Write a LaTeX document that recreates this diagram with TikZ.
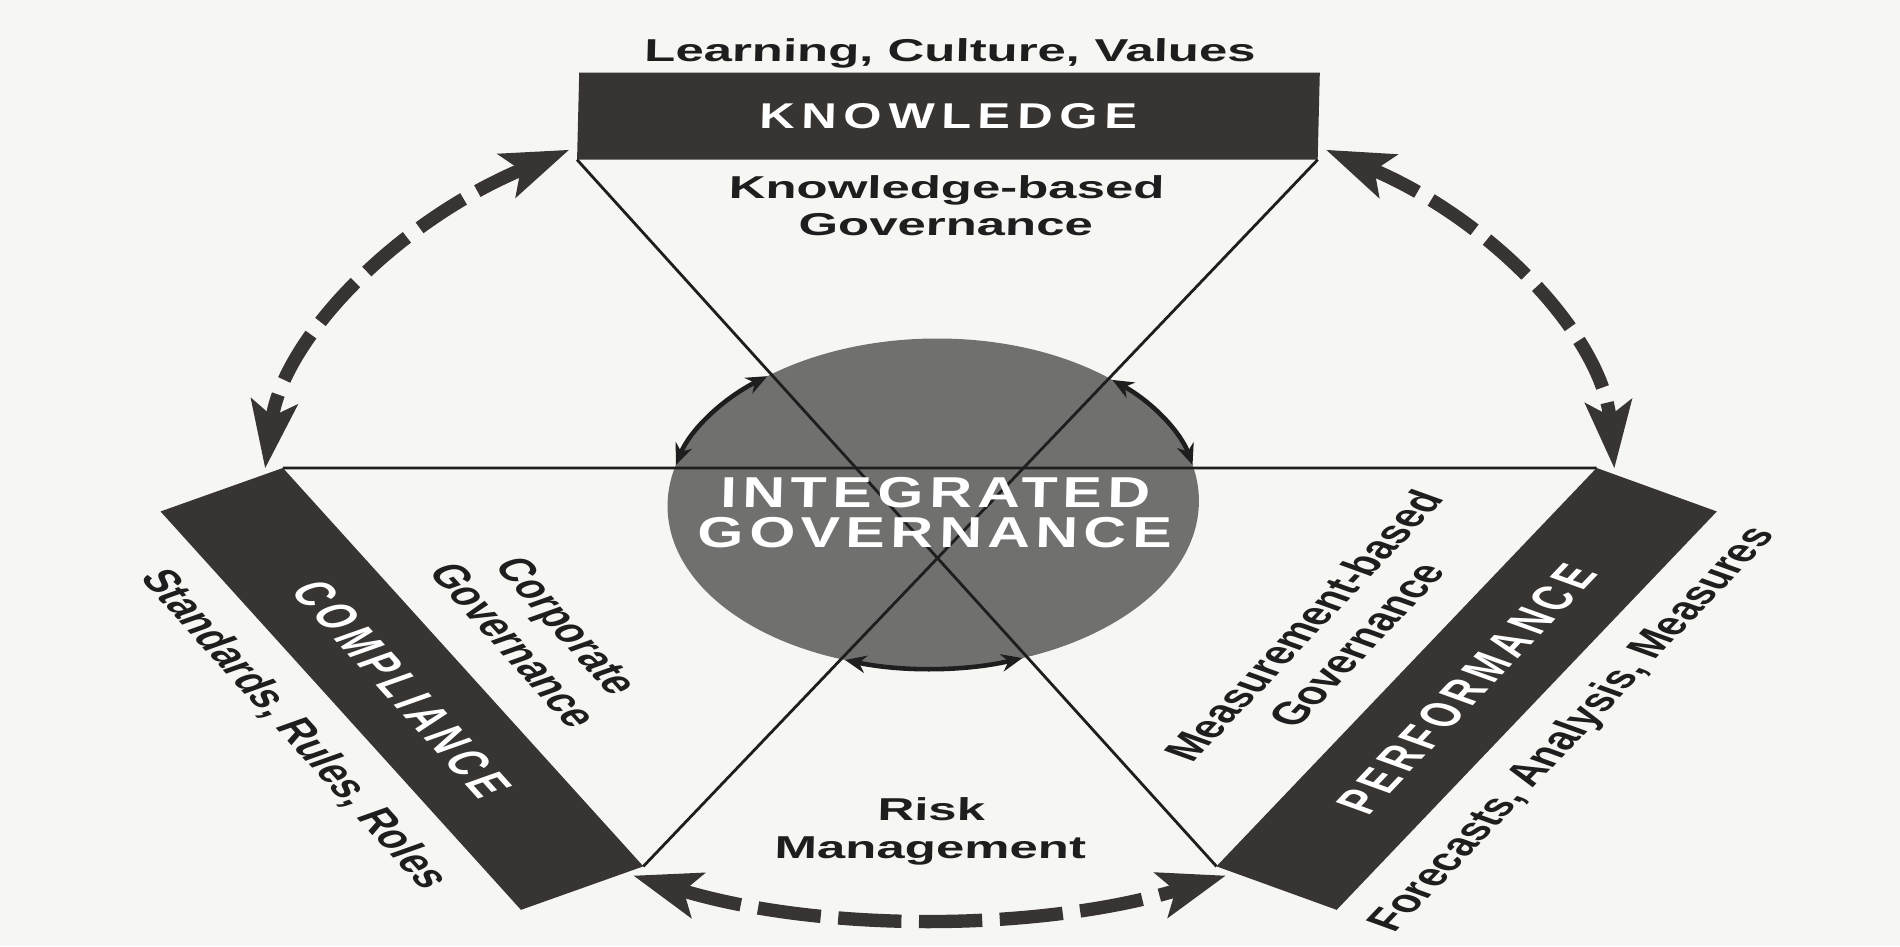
\documentclass[tikz,border=0pt]{standalone}
\usepackage{fontspec}
\setmainfont{Liberation Sans}
\newfontfamily\boxfont[FakeStretch=0.85,LetterSpace=11.5]{Liberation Sans}
\newfontfamily\igfont[FakeStretch=0.85,LetterSpace=8]{Liberation Sans}
\usetikzlibrary{arrows.meta}
\definecolor{bg}{RGB}{246,246,243}
\definecolor{boxc}{RGB}{56,52,50}
\definecolor{ellc}{RGB}{112,112,110}
\definecolor{ink}{RGB}{30,30,30}
\tikzset{
  panel/.style={fill=boxc, minimum width=4.6cm, minimum height=0.87cm, inner sep=0pt, outer sep=0pt,
    text=white, font=\boxfont\bfseries\fontsize{10.2pt}{12pt}\selectfont},
  lbl/.style={text=ink, inner sep=0pt, anchor=base, font=\bfseries\fontsize{9pt}{11pt}\selectfont},
  igtext/.style={text=white, inner sep=0pt, anchor=base, font=\igfont\bfseries\fontsize{12.3pt}{14pt}\selectfont},
  thinline/.style={line width=0.8pt, draw=ink},
  bigarrow/.style={line width=3.8pt, draw=boxc, dash pattern=on 15pt off 4.5pt,
    {Stealth[length=19pt,width=13pt,inset=4pt]}-{Stealth[length=19pt,width=13pt,inset=4pt]}},
  smallarrow/.style={line width=1.3pt, draw=ink,
    {Stealth[length=6pt,width=5pt]}-{Stealth[length=6pt,width=5pt]}}
}
\begin{document}
\begin{tikzpicture}
\fill[bg] (0,0) rectangle (19,9.46);
\useasboundingbox (0,0) rectangle (19,9.46);
\begin{scope}[cm={1.61,0,0.0247,1,(9.39,4.48)}, every node/.append style={transform shape}]
  % boxes
  \node[panel] (K) at (0,3.818) {KNOWLEDGE};
  \node[panel, rotate=-60] (C) at (210:3.818) {COMPLIANCE};
  \node[panel, rotate=60] (P) at (-30:3.818) {PERFORMANCE};
  % central disc
  \node[circle, fill=ellc, minimum size=3.3cm, inner sep=0pt, outer sep=0pt] (IG) at (-0.035,-0.055) {};
  % thin lines
  \draw[thinline] (K.south west) -- (P.north west);
  \draw[thinline] (K.south east) -- (C.north east);
  \draw[thinline] (C.north west) -- (P.north east);
  % small arrows on the disc
  \begin{scope}[shift={(-0.035,-0.055)}]
    \coordinate (s1) at (129.5:1.65);
    \coordinate (s2) at (13.5:1.65);
    \coordinate (s3) at (-108.5:1.65);
  \end{scope}
  \draw[smallarrow] (s1) arc[start angle=129.5, end angle=166.5, radius=1.65];
  \draw[smallarrow] (s2) arc[start angle=13.5, end angle=48.5, radius=1.65];
  \draw[smallarrow] (s3) arc[start angle=-108.5, end angle=-69.5, radius=1.65];
  % centre text
  \node[igtext] (ig1) at (-0.02,-0.09) {INTEGRATED};
  \node[igtext] (ig2) at (-0.02,-0.49) {GOVERNANCE};
  % big dashed arrows
  \coordinate (d1) at (124:4.2);
  \coordinate (d2) at (56:4.2);
  \coordinate (d3) at (244:4.2);
  \draw[bigarrow] (d1) arc[start angle=124, end angle=176, radius=4.2];
  \draw[bigarrow] (d2) arc[start angle=56, end angle=4, radius=4.2];
  \draw[bigarrow, dash pattern=on 18pt off 5pt] (d3) arc[start angle=244, end angle=296, radius=4.2];
  % labels
  \node[lbl] (lcv) at (0,4.36) {Learning, Culture, Values};
  \node[lbl] (kb1) at (0,2.99) {Knowledge-based};
  \node[lbl] (kb2) at (0,2.63) {Governance};
  \node[lbl, rotate=-60] (cg1) at (-2.381,-1.334) {Corporate};
  \node[lbl, rotate=-60] (cg2) at (-2.71,-1.524) {Governance};
  \node[lbl, rotate=60] (mg1) at (2.381,-1.334) {Measurement-based};
  \node[lbl, rotate=60] (mg2) at (2.71,-1.524) {Governance};
  \node[lbl, rotate=-60] (srr) at (-4.05,-2.36) {Standards, Rules, Roles};
  \node[lbl, rotate=60] (fam) at (4.05,-2.36) {Forecasts, Analysis, Measures};
  \node[lbl] (rm1) at (0,-3.22) {Risk};
  \node[lbl] (rm2) at (0,-3.60) {Management};
\end{scope}
\end{tikzpicture}
\end{document}
